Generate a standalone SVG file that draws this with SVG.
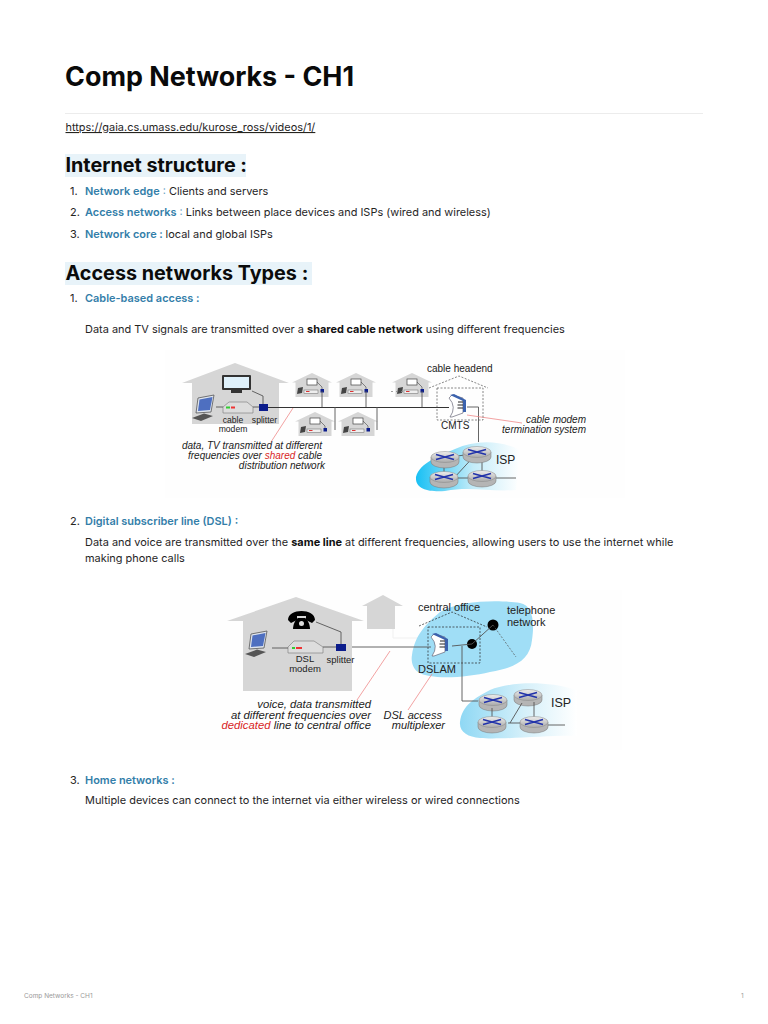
<svg xmlns="http://www.w3.org/2000/svg" xmlns:xlink="http://www.w3.org/1999/xlink" width="768" height="1024" viewBox="0 0 768 1024">
<style>
.b{font-family:Inter,"Liberation Sans",sans-serif;font-size:10.95px;fill:#26251f}
.bb{font-weight:700;fill:#111}
.c{font-weight:600;fill:#337ea9}
.h{font-family:Inter,"Liberation Sans",sans-serif;font-size:19.8px;font-weight:700;fill:#0b0b0b}
.t{font-family:"Liberation Sans",Arial,sans-serif;font-size:10px;fill:#222}
.s{font-size:8.6px}
.n{font-size:9.5px}
.l{font-size:11px}
.v{font-size:11.3px}
.i{font-style:italic;text-anchor:end}
.m{text-anchor:middle}
.red{fill:#d81e1e}
.w{fill:none;stroke:#555;stroke-width:.9}
.wm{fill:none;stroke:#333;stroke-width:1.1}
.rl{fill:none;stroke:#ef8a8a;stroke-width:.8}
.d{fill:none;stroke:#555;stroke-width:.7;stroke-dasharray:2 1.5}
.hs{fill:#d6d6d6}
</style>
<defs>
<linearGradient id="cg" x1="0" x2="1" y1="0" y2="0"><stop offset="0" stop-color="#18c0f4"/><stop offset=".55" stop-color="#c4ecf9"/><stop offset="1" stop-color="#fff"/></linearGradient>
<linearGradient id="cg2" x1="0" x2="1" y1="0" y2="0"><stop offset="0" stop-color="#8fd8f4"/><stop offset=".55" stop-color="#d5f0fa"/><stop offset="1" stop-color="#fff"/></linearGradient>
<linearGradient id="sil" x1="0" x2="0" y1="0" y2="1"><stop offset="0" stop-color="#eee"/><stop offset="1" stop-color="#aaa"/></linearGradient>
<g id="router">
<path d="M-14 -3v5a14 6 0 0 0 28 0v-5z" fill="#b5b5b5" stroke="#777" stroke-width=".5"/>
<ellipse cx="0" cy="-3" rx="14" ry="5.5" fill="url(#sil)" stroke="#888" stroke-width=".5"/>
<path d="M-9 -5.500L9 -.5M-9 -.5L9 -5.500" stroke="#2233aa" stroke-width="1.700" fill="none"/>
</g>
<g id="laptop">
<path d="M5 0L21 -3L18 14L3 15z" fill="#dfe5ee" stroke="#555" stroke-width=".8"/>
<path d="M6.500 1.500L19.500 -1L17 12L5 13z" fill="#4e6fc0"/>
<path d="M-1 20L11 15.500L20 18L8 23z" fill="#555"/>
</g>
<g id="mini">
<path class="hs" d="M-20 9.500L0 0L20 9.500L16.500 9.500V24H-16.500V9.500z"/>
<rect x="-5" y="6" width="10" height="6" fill="#fff" stroke="#444" stroke-width=".7"/>
<path d="M-14 15L-9 14L-10 20L-15 21z" fill="#444"/>
<rect x="-8" y="17" width="14" height="3.500" fill="#eee" stroke="#666" stroke-width=".5"/>
<rect x="-6" y="18" width="3.500" height="1" fill="#d33"/>
<path d="M5 9L10 14V18" fill="none" stroke="#444" stroke-width=".6"/>
<rect x="8.500" y="16" width="3.500" height="3.500" fill="#0c1d8c"/>
</g>
<g id="headdev">
<path d="M3 0L14 3L14 18L3 22L1 22Q8 12 0 3z" fill="#fff" stroke="#667" stroke-width=".7"/>
<path d="M1 0L5 -1L17 5L17 17L14 17L14 6z" fill="#3c62ad"/>
<path d="M9 7h5M8.500 10h5.500M8.500 13h5.500" stroke="#222" stroke-width="1"/>
</g>
</defs>
<rect width="768" height="1024" fill="#fff"/>
<g id="page-text">
<text x="65" y="86" font-family="Inter,'Liberation Sans',sans-serif" font-size="26.900" font-weight="700" fill="#0a0a0a">Comp Networks - CH1</text>
<line x1="65" y1="113.500" x2="703" y2="113.500" stroke="#ececec"/>
<text class="b" x="65.500" y="131" text-decoration="underline">https://gaia.cs.umass.edu/kurose_ross/videos/1/</text>
<rect x="65" y="154" width="181" height="23" fill="#e8f3f9"/>
<text class="h" x="65.500" y="172">Internet structure :</text>
<text class="b" x="70" y="195">1.</text>
<text class="b" x="85" y="195"><tspan class="c">Network edge</tspan><tspan fill="#6aa3c4"> : </tspan>Clients and servers</text>
<text class="b" x="70" y="216">2.</text>
<text class="b" x="85" y="216"><tspan class="c">Access networks</tspan><tspan fill="#6aa3c4"> : </tspan>Links between place devices and ISPs (wired and wireless)</text>
<text class="b" x="70" y="238">3.</text>
<text class="b" x="85" y="238"><tspan class="c">Network core</tspan><tspan class="c"> : </tspan>local and global ISPs</text>
<rect x="65" y="262" width="247" height="23" fill="#e8f3f9"/>
<text class="h" x="65.500" y="280">Access networks Types :</text>
<text class="b" x="70" y="302">1.</text>
<text class="b c" x="85" y="302">Cable-based access :</text>
<text class="b" x="85" y="333">Data and TV signals are transmitted over a <tspan class="bb">shared cable network</tspan> using different frequencies</text>
<text class="b" x="70" y="525">2.</text>
<text class="b c" x="85" y="525">Digital subscriber line (DSL) :</text>
<text class="b" x="85" y="546">Data and voice are transmitted over the <tspan class="bb">same line</tspan> at different frequencies, allowing users to use the internet while</text>
<text class="b" x="85" y="562">making phone calls</text>
<text class="b" x="70" y="784">3.</text>
<text class="b c" x="85" y="784">Home networks :</text>
<text class="b" x="85" y="804">Multiple devices can connect to the internet via either wireless or wired connections</text>
<text x="24" y="998" font-family="Inter,'Liberation Sans',sans-serif" font-size="6.500" fill="#999">Comp Networks - CH1</text>
<text x="741" y="998" font-family="Inter,'Liberation Sans',sans-serif" font-size="6.500" fill="#999">1</text>
</g>
<rect x="165" y="350" width="460" height="148" fill="#fefefe"/>
<rect x="170" y="590" width="452" height="160" fill="#fefefe"/>
<g id="cable-home">
<path class="hs" d="M182 383L235 363L289 383H279V424H192V383z"/>
<rect x="222" y="375" width="29" height="15" rx="1" fill="#333"/><rect x="224" y="377" width="25" height="11" fill="#dff1fb"/>
<rect x="231" y="390" width="11" height="3" fill="#333"/>
<use xlink:href="#laptop" x="193" y="398"/>
<path d="M223 407L229 402H247L253 407V413H223z" fill="#ddd" stroke="#777" stroke-width=".6"/>
<rect x="226" y="406.500" width="4" height="2" fill="#3c3"/><rect x="231" y="406.500" width="4" height="2" fill="#e33"/>
<rect x="259" y="404" width="9" height="7" fill="#0c1d8c"/>
<text class="t s m" x="233" y="422.500">cable</text><text class="t s m" x="233" y="431.500">modem</text><text class="t s m" x="264.500" y="423">splitter</text>
</g>
<use id="cable-house-1" xlink:href="#mini" x="312" y="373"/>
<use id="cable-house-2" xlink:href="#mini" x="356" y="373"/>
<use id="cable-house-3" xlink:href="#mini" x="412" y="373"/>
<use id="cable-house-4" xlink:href="#mini" x="315" y="412"/>
<use id="cable-house-5" xlink:href="#mini" x="358" y="412"/>
<g id="cable-connectors">
<path class="wm" d="M268 407.500H449"/>
<path class="w" d="M252 391L263 396V404M216 407H223M253 407H259M467 407H478.500V442M322 391V407M366 391V407M422 391V407M335 430V407M377 430V407"/>
<path d="M391 391.500h2M396 391.500h2M401 391.500h2" stroke="#888" stroke-width=".8"/>
<path class="rl" d="M293 408L271 442M467 415L522 423"/>
</g>
<g id="cable-labels">
<text class="t i" x="322" y="449">data, TV transmitted at different</text>
<text class="t i" x="322" y="459">frequencies over <tspan class="red">shared</tspan> cable</text>
<text class="t i" x="325" y="469">distribution network</text>
<text class="t i" x="586" y="423">cable modem</text>
<text class="t i" x="586" y="433">termination system</text>
</g>
<g id="cable-headend">
<path class="d" d="M429 388L459 376L488 388M437 388H483V420H437z"/>
<use xlink:href="#headdev" x="449" y="395"/>
<text class="t" x="427" y="372">cable headend</text>
<text class="t" x="441" y="429">CMTS</text>
</g>
<g id="cable-isp">
<path d="M416 477C420 462 440 456 455 449C475 440 500 440 520 450L516 490C490 492 470 486 445 491C430 492 415 490 416 477z" fill="url(#cg)"/>
<path class="w" d="M445 458L477 453M477 453L454 478M444 458V478M482 477V453M444 478H482M482 478H516"/>
<use xlink:href="#router" x="445" y="460"/>
<use xlink:href="#router" x="477" y="455"/>
<use xlink:href="#router" x="444" y="480"/>
<use xlink:href="#router" x="482" y="479"/>
<text class="t" x="496" y="464" style="font-size:12px">ISP</text>
</g>
<g id="dsl-home">
<path class="hs" d="M227 621L296 597L364 621H352V691H243V621z"/>
<path class="hs" d="M362 606L383 595L403 606H395V629H367V606z"/>
<path d="M393 629V638H427" fill="none" stroke="#f0f0f0"/>
<path d="M288 620C288 608 315 608 315 620L312 623L306 620V616H297V620L291 623z" fill="#000"/><path d="M293 629C293 624 296 619 298 618H305C307 619 310 624 310 629z" fill="#000"/><circle cx="301.500" cy="623.500" r="2.500" fill="#ddd"/>
<use xlink:href="#laptop" x="246" y="634"/>
<path d="M288 647L294 641H314L323 647V653H288z" fill="#ddd" stroke="#777" stroke-width=".6"/>
<rect x="292" y="647" width="3" height="2" fill="#3c3"/><rect x="296" y="647" width="6" height="2" fill="#e33"/>
<rect x="336" y="644" width="10" height="7" fill="#0c1d8c"/>
<text class="t n m" x="305" y="661.500">DSL</text><text class="t n m" x="305" y="671.500">modem</text><text class="t n m" x="340.500" y="663">splitter</text>
</g>
<g id="telephone-network">
<path d="M412 655C415 635 425 625 440 612C460 600 500 600 520 603C532 605 535 620 532 640C530 660 515 668 490 672C465 678 430 680 418 672C412 668 411 660 412 655z" fill="#a0def6"/>
<circle cx="472" cy="644" r="5" fill="#000"/><circle cx="493" cy="625" r="5.500" fill="#000"/>
<path class="w" d="M472 644L493 625"/>
<path class="d" d="M493 625L516 657"/>
<text class="t l" x="507" y="614">telephone</text><text class="t l" x="507" y="625.500">network</text>
</g>
<g id="dsl-central-office">
<path d="M419 626L452 612L487 627M428 627H480V663H428z" fill="none" stroke="#222" stroke-width=".7" stroke-dasharray="2 1.500"/>
<use xlink:href="#headdev" x="431" y="634"/>
<text class="t l" x="418" y="611">central office</text>
<text class="t l" x="418" y="673">DSLAM</text>
</g>
<g id="dsl-isp">
<path d="M460 722C462 705 475 698 490 690C510 682 545 680 577 690V736C550 735 500 740 480 738C468 737 459 732 460 722z" fill="url(#cg2)"/>
<use xlink:href="#router" x="493" y="703"/>
<use xlink:href="#router" x="528" y="698"/>
<path class="w" d="M492 708V722M534 702V722M508 723H520M510 723L522 703M534 725H565"/>
<use xlink:href="#router" x="492" y="725"/>
<use xlink:href="#router" x="534" y="725"/>
<text class="t" x="551" y="707" style="font-size:12.500px">ISP</text>
</g>
<g id="dsl-connectors">
<path class="w" d="M352 647H431M452 646L472 644M462 646V701H478M272 648H288M323 647H336M341 644V632L316 622"/>
<path class="rl" d="M390 651L357 700M432 674L408 710"/>
</g>
<g id="dsl-labels">
<text class="t v i" x="371" y="708">voice, data transmitted</text>
<text class="t v i" x="371" y="718.500">at different frequencies over</text>
<text class="t v i" x="371" y="729"><tspan class="red">dedicated</tspan> line to central office</text>
<text class="t l i" x="442" y="718.500">DSL access</text>
<text class="t l i" x="445" y="729">multiplexer</text>
</g>
</svg>
